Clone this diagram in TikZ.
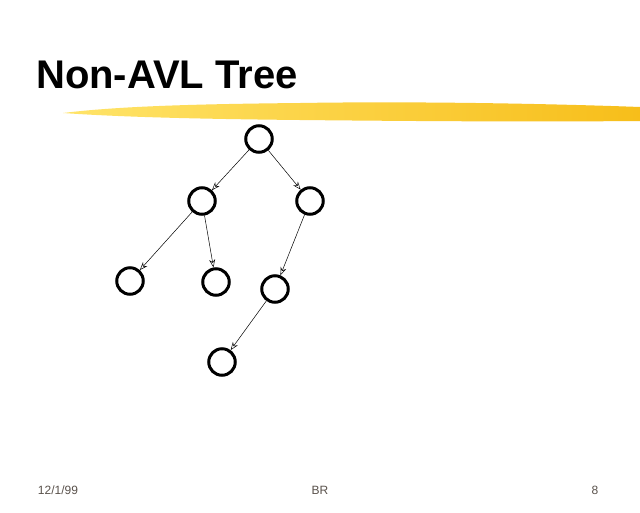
\documentclass[tikz,border=0pt]{standalone}
\usepackage{fontspec}
\setmainfont{Liberation Sans}
\usetikzlibrary{arrows.meta}
\definecolor{brushL}{HTML}{FFE469}
\definecolor{brushM}{HTML}{FBD23A}
\definecolor{brushR}{HTML}{F7BE1A}
\definecolor{footgray}{HTML}{5A524C}
\begin{document}
\begin{tikzpicture}[x=1pt,y=-1pt,
  tnode/.style={circle,draw=black,line width=3pt,minimum size=26.5pt,inner sep=0pt},
  edge/.style={draw=black,line width=0.5pt,-{Stealth[length=8pt,width=6pt,open]}},
  foot/.style={text=footgray,font=\fontsize{12}{14}\selectfont,anchor=base}]
\useasboundingbox (0,0) rectangle (640,512);
\fill[white] (0,0) rectangle (640,512);
% brush stroke
\shade[left color=brushL, middle color=brushM, right color=brushR, shading angle=90]
  (63,113) .. controls (120,106) and (200,104) .. (300,103)
  .. controls (420,101) and (560,104) .. (640,107)
  -- (640,121) .. controls (520,122) and (400,121) .. (300,120)
  .. controls (200,119) and (120,117) .. (63,113) -- cycle;
\node[anchor=base west,inner sep=0pt,font=\fontsize{40}{44}\selectfont\bfseries] (title) at (36,88) {Non-AVL Tree};
% nodes
\node[tnode] (r) at (259,139) {};
\node[tnode] (a) at (202,201) {};
\node[tnode] (b) at (310,201) {};
\node[tnode] (c) at (130,281) {};
\node[tnode] (d) at (216,282) {};
\node[tnode] (e) at (275,289) {};
\node[tnode] (f) at (222,362) {};
\draw[edge] (r) -- (a);
\draw[edge] (r) -- (b);
\draw[edge] (a) -- (c);
\draw[edge] (a) -- (d);
\draw[edge] (b) -- (e);
\draw[edge] (e) -- (f);
% footer
\node[foot] (date) at (58,494) {12/1/99};
\node[foot] (auth) at (320,494) {BR};
\node[foot] (pg) at (595,494) {8};
\end{tikzpicture}
\end{document}
